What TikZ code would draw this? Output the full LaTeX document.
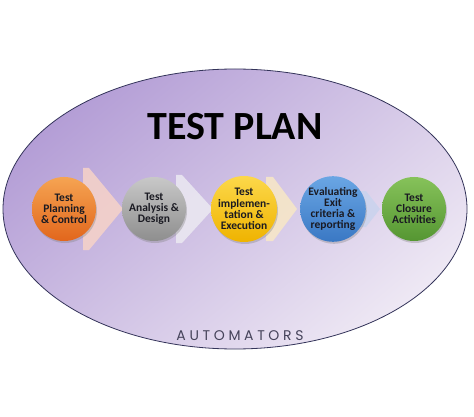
\documentclass[tikz,border=0pt]{standalone}
\usepackage{fontspec}
\setmainfont{Carlito}
\newfontfamily\brandfont[LetterSpace=26]{Poppins}
\usetikzlibrary{shapes.geometric,shadows}

\definecolor{planlo}{HTML}{B49ED6}
\definecolor{planhi}{HTML}{EEE8F4}
\definecolor{planedge}{HTML}{34345A}
\definecolor{chevA}{HTML}{F7D3C8}
\definecolor{chevB}{HTML}{ECEAF2}
\definecolor{chevC}{HTML}{F8E8C6}
\definecolor{chevD}{HTML}{C9D3EE}
\definecolor{orgA}{HTML}{F5A452}
\definecolor{orgB}{HTML}{E2661C}
\definecolor{gryA}{HTML}{C8C8C8}
\definecolor{gryB}{HTML}{8E8E8E}
\definecolor{ylwA}{HTML}{FCD84A}
\definecolor{ylwB}{HTML}{EFB300}
\definecolor{bluA}{HTML}{6AA6E4}
\definecolor{bluB}{HTML}{3A78C4}
\definecolor{grnA}{HTML}{86C25A}
\definecolor{grnB}{HTML}{559632}
\definecolor{stagetxt}{HTML}{1A1A22}
\definecolor{brandgray}{HTML}{45435A}

\begin{document}
\begin{tikzpicture}[x=1pt,y=-1pt,
    stage/.style={circle, minimum size=64pt, inner sep=0pt, align=center,
      font=\fontsize{11.5}{11.2}\selectfont\bfseries, text=stagetxt,
      drop shadow={opacity=.35, shadow xshift=1pt, shadow yshift=-2pt}}]
  \def \cy {209}
  \useasboundingbox (0,0) rectangle (474,417);
  \fill[white] (0,0) rectangle (474,417);

  % the plan
  \node[ellipse, draw=planedge, line width=.8pt, minimum width=464pt, minimum height=280pt,
    inner sep=0pt, top color=planlo, bottom color=planhi, shading angle=40] (plan) at (235,\cy) {};

  % chevrons behind the stages
  \foreach \xa/\xb/\xt/\h/\col in {83/89/123/41/chevA, 176/182/213/34/chevB,
                                   266/273/297/32/chevC, 360/366/380/18/chevD}
  {
    \fill[\col, opacity=.85] (\xa,\cy-\h) -- (\xb,\cy-\h) -- (\xt,\cy)
      -- (\xb,\cy+\h) -- (\xa,\cy+\h) -- cycle;
  }

  \node[stage, top color=orgA, bottom color=orgB] (planning) at (64,\cy) {Test\\Planning\\\& Control};
  \node[stage, top color=gryA, bottom color=gryB] (analysis) at (154,\cy) {Test\\Analysis \&\\Design};
  \node[stage, top color=ylwA, bottom color=ylwB] (execution) at (244,\cy) {Test\\implemen-\\tation \&\\Execution};
  \node[stage, top color=bluA, bottom color=bluB] (exit) at (333,\cy) {Evaluating\\Exit\\criteria \&\\reporting};
  \node[stage, top color=grnA, bottom color=grnB] (closure) at (414,\cy) {Test\\Closure\\Activities};

  \node[font=\fontsize{40}{40}\selectfont\bfseries, text=black] (title) at (235,127) {TEST PLAN};
  \node[font=\brandfont\fontsize{14}{14}\selectfont, text=brandgray] (brand) at (240,336) {AUTOMATORS};
\end{tikzpicture}
\end{document}
